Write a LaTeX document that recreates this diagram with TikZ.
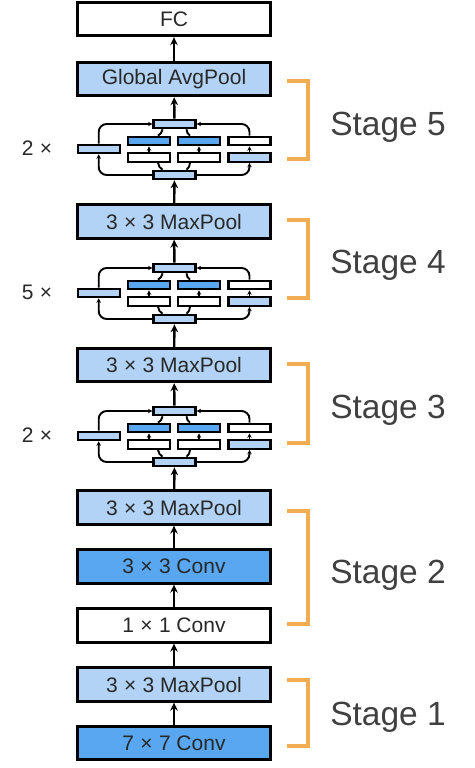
\documentclass[tikz,border=0pt]{standalone}
\usepackage{fontspec}
\setmainfont{Liberation Sans}
\usetikzlibrary{arrows.meta}
\definecolor{lightblue}{RGB}{178,211,246}
\definecolor{darkblue}{RGB}{88,167,240}
\definecolor{bracketorange}{RGB}{242,172,82}
\definecolor{stagegray}{RGB}{64,64,64}
\definecolor{boxtext}{RGB}{40,40,40}
\tikzset{
  layer/.style={draw, line width=2.8pt, minimum width=193.5pt, minimum height=33.5pt, inner sep=0pt, text=boxtext, font=\fontsize{21}{24}\selectfont},
  small/.style={draw, line width=2.1pt, minimum width=42pt, minimum height=8.5pt, inner sep=0pt},
  arr/.style={line width=2.4pt, -{Stealth[length=8pt,width=7.5pt]}},
  tinyarr/.style={line width=1.9pt, -{Stealth[length=4.5pt,width=4.5pt]}},
  link/.style={line width=1.9pt},
  bracket/.style={draw=bracketorange, line width=3.4pt},
  stage/.style={font=\fontsize{33.5}{40}\selectfont, text=stagegray, anchor=base},
  times/.style={font=\fontsize{21}{24}\selectfont, text=boxtext, anchor=base},
}
\newcommand{\by}{\hspace{0.3em}×\hspace{0.3em}}
\begin{document}
\begin{tikzpicture}[x=1pt,y=-1pt]
                \useasboundingbox (0,0) rectangle (474,768);
                % main column
                \node[layer] (fc) at (174,19) {FC};
                \node[layer, fill=lightblue] (gap) at (174,79) {Global AvgPool};
                \node[layer, fill=lightblue] (pool4) at (174,221.5) {3\by3 MaxPool};
                \node[layer, fill=lightblue] (pool3) at (174,365) {3\by3 MaxPool};
                \node[layer, fill=lightblue] (pool2) at (174,507.5) {3\by3 MaxPool};
                \node[layer, fill=darkblue] (conv3) at (174,566.5) {3\by3 Conv};
                \node[layer] (conv1) at (174,625.5) {1\by1 Conv};
                \node[layer, fill=lightblue] (pool1) at (174,684.5) {3\by3 MaxPool};
                \node[layer, fill=darkblue] (conv7) at (174,743) {7\by7 Conv};
                % inception blocks
                \foreach \T/\n/\k in {119/a/2,263/b/5,406/c/2}{
                    \node[small, fill=lightblue] (\n-out) at (174.5,\T+5) {};
                    \node[small, fill=lightblue] (\n-in) at (174.5,\T+56) {};
                    \node[small, fill=lightblue] (\n-p1) at (98.7,\T+30) {};
                    \node[small] (\n-p2a) at (149,\T+38.5) {};
                    \node[small, fill=darkblue] (\n-p2b) at (149,\T+22) {};
                    \node[small] (\n-p3a) at (199,\T+38.5) {};
                    \node[small, fill=darkblue] (\n-p3b) at (199,\T+22) {};
                    \node[small, fill=lightblue] (\n-p4a) at (249.5,\T+38.5) {};
                    \node[small] (\n-p4b) at (249.5,\T+22) {};
                    \node[times] (\n-rep) at (37,\T+36) {\k\hspace{0.3em}×};
                    \draw[tinyarr, rounded corners=8pt] (\n-in.west) -| (\n-p1.south);
                    \draw[tinyarr, rounded corners=8pt] (\n-in.east) -| (\n-p4a.south);
                    \draw[tinyarr, rounded corners=8pt] (\n-p1.north) |- (\n-out.west);
                    \draw[tinyarr, rounded corners=8pt] (\n-p4b.north) |- (\n-out.east);
                    \draw[tinyarr] (\n-p2a) -- (\n-p2b);
                    \draw[tinyarr] (\n-p3a) -- (\n-p3b);
                    \draw[tinyarr] (\n-p4a) -- (\n-p4b);
                    \draw[link] ([xshift=-12pt]\n-in.north) to[bend left=25] ([xshift=9pt]\n-p2a.south);
                    \draw[link] ([xshift=12pt]\n-in.north) to[bend right=25] ([xshift=-9pt]\n-p3a.south);
                    \draw[link] ([xshift=9pt]\n-p2b.north) to[bend right=25] ([xshift=-12pt]\n-out.south);
                    \draw[link] ([xshift=-9pt]\n-p3b.north) to[bend left=25] ([xshift=12pt]\n-out.south);
                }
                % arrows up the column
                \draw[arr] (gap) -- (fc);
                \draw[arr] (a-out) -- (gap);
                \draw[arr] (pool4) -- (a-in);
                \draw[arr] (b-out) -- (pool4);
                \draw[arr] (pool3) -- (b-in);
                \draw[arr] (c-out) -- (pool3);
                \draw[arr] (pool2) -- (c-in);
                \draw[arr] (conv3) -- (pool2);
                \draw[arr] (conv1) -- (conv3);
                \draw[arr] (pool1) -- (conv1);
                \draw[arr] (conv7) -- (pool1);
                % stage brackets
                \foreach \top/\bot/\s/\base in {81/159/5/135,220/298/4/273,364/443/3/418,511/624/2/583,680/746/1/725}{
                    \draw[bracket] (287,\top) -- (308,\top) -- (308,\bot) -- (287,\bot);
                    \node[stage] (stage\s) at (388,\base) {Stage \s};
                }
\end{tikzpicture}
\end{document}
